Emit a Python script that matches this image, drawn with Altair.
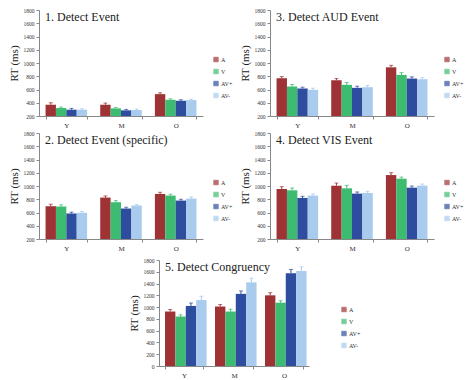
import altair as alt
import pandas as pd

groups = ["Y", "M", "O"]
conds = ["A", "V", "AV+", "AV-"]
colors = ["#9E3234", "#3DBB70", "#2F4D9E", "#A8CBEE"]

titles = ["1. Detect Event", "2. Detect Event (specific)", "3. Detect AUD Event",
          "4. Detect VIS Event", "5. Detect Congruency"]

# values per panel: [Y(A,V,AV+,AV-), M(...), O(...)]
p1_vals = [[370, 320, 295, 295], [370, 315, 285, 290], [530, 445, 430, 440]]
p1_err = [[30, 15, 20, 15], [25, 15, 15, 15], [20, 15, 15, 15]]
p2_vals = [[695, 690, 585, 595], [825, 755, 660, 705], [880, 855, 780, 810]]
p2_err = [[30, 25, 20, 20], [25, 25, 20, 15], [25, 20, 20, 25]]
p3_vals = [[770, 645, 615, 595], [740, 670, 625, 635], [935, 820, 765, 755]]
p3_err = [[25, 30, 20, 25], [25, 35, 25, 25], [30, 35, 25, 25]]
p4_vals = [[955, 935, 820, 855], [1005, 965, 885, 895], [1165, 1110, 975, 1005]]
p4_err = [[35, 35, 25, 25], [40, 45, 25, 25], [35, 25, 25, 25]]
p5_vals = [[925, 840, 1020, 1120], [1010, 925, 1225, 1420], [1200, 1075, 1575, 1615]]
p5_err = [[35, 30, 50, 65], [35, 40, 50, 70], [45, 35, 65, 70]]

FONT = "Liberation Serif"


def make_df(vals, errs):
    rows = []
    for gi, g in enumerate(groups):
        for ci, c in enumerate(conds):
            v = vals[gi][ci]
            e = errs[gi][ci]
            rows.append({"group": g, "cond": c, "rt": v, "hi": v + e})
    return pd.DataFrame(rows)


def panel(vals, errs, title, ymin, w, h, leg_offset=10):
    df = make_df(vals, errs)
    base = alt.Chart(df)
    x = alt.X("group:N", sort=groups, title=None,
              scale=alt.Scale(paddingInner=0.24, paddingOuter=0.12),
              axis=alt.Axis(labelAngle=0, labelFont=FONT, labelFontSize=7,
                            labelColor="#333", domainColor="#888", tickColor="#888",
                            tickBand="extent", tickSize=3, labelPadding=2))
    yscale = alt.Scale(domain=[ymin, 1800], nice=False, zero=False, clamp=True)
    yaxis = alt.Axis(values=list(range(ymin, 1801, 200)), grid=False,
                     format="d", labelOverlap=False, labelFlush=False,
                     labelFont=FONT, labelFontSize=5.5, labelColor="#333",
                     titleFont=FONT, titleFontSize=11, titleFontWeight="normal",
                     titleColor="#222", domainColor="#888", tickColor="#888",
                     tickSize=3, titlePadding=4, labelPadding=2)
    y = alt.Y("rt:Q", title="RT (ms)", scale=yscale, axis=yaxis)
    y_hi = alt.Y("hi:Q", title="RT (ms)", scale=yscale, axis=yaxis)
    color = alt.Color("cond:N", sort=conds,
                      scale=alt.Scale(domain=conds, range=colors),
                      legend=alt.Legend(title=".", titleOpacity=0, titleFontSize=2,
                                        titlePadding=h * 0.42,
                                        symbolType="square", symbolSize=22,
                                        symbolStrokeWidth=0.6, symbolStrokeColor="#333",
                                        labelFont=FONT, labelFontSize=6,
                                        labelColor="#333", rowPadding=4,
                                        padding=0, orient="right", offset=leg_offset,
                                        labelOffset=2))
    xo = alt.XOffset("cond:N", sort=conds,
                     scale=alt.Scale(paddingInner=0.0))
    bars = base.mark_bar().encode(x=x, xOffset=xo, y=y, color=color)
    rules = base.mark_rule(strokeWidth=1).encode(
        x=x, xOffset=xo, y=y, y2="hi:Q", color=color)
    caps = base.mark_tick(orient="horizontal", size=4, thickness=1).encode(
        x=x, xOffset=xo, y=y_hi, color=color)
    ttl = alt.Chart(pd.DataFrame({"t": [title]})).mark_text(
        align="left", baseline="top", font=FONT, fontSize=12, color="#222"
    ).encode(text="t:N", x=alt.value(6), y=alt.value(2))
    return alt.layer(bars, rules, caps, ttl).properties(width=w, height=h)


W, H = 164, 106
c1 = panel(p1_vals, p1_err, titles[0], 200, W, H)
c2 = panel(p2_vals, p2_err, titles[1], 200, W, H)
c3 = panel(p3_vals, p3_err, titles[2], 200, W, H)
c4 = panel(p4_vals, p4_err, titles[3], 200, W, H)
c5 = panel(p5_vals, p5_err, titles[4], 0, 150, H, leg_offset=32)

spacer = alt.Chart(pd.DataFrame({"a": [""]})).mark_text().encode(
    text="a:N", x=alt.value(0), y=alt.value(0)
).properties(width=89, height=1, view=alt.ViewBackground(stroke=None))

res = dict(color="independent", y="independent", x="independent")

row1 = alt.hconcat(c1, c3, spacing=6).resolve_scale(**res)
row2 = alt.hconcat(c2, c4, spacing=6).resolve_scale(**res)
row3 = alt.hconcat(spacer, c5, spacing=0).resolve_scale(**res)

chart = alt.vconcat(row1, row2, row3, spacing=3).resolve_scale(**res).properties(
    padding=0, background="white"
).configure_view(stroke=None)

chart.save("out.html", embed_options={"renderer": "svg", "actions": False})
